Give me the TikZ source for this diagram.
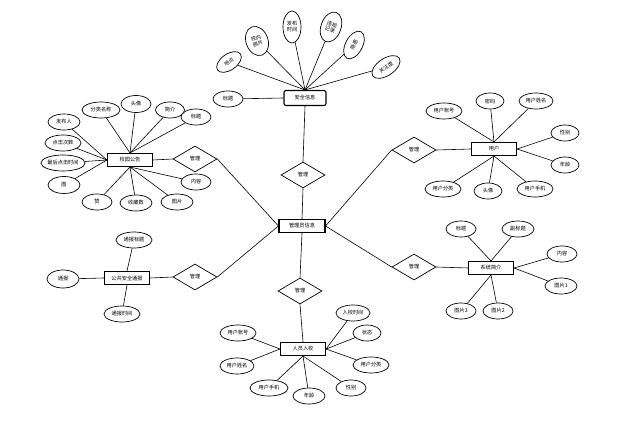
\documentclass[tikz,border=0pt]{standalone}
\usepackage{fontspec}
\newfontfamily\cjk{Noto Sans CJK SC}
\usetikzlibrary{shapes.geometric,backgrounds}
\begin{document}
\begin{tikzpicture}[x=1pt,y=-1pt,
 every node/.style={font=\cjk\fontsize{5.2}{6}\selectfont, inner sep=0pt, align=center},
 attr/.style={ellipse, draw, line width=0.7pt, fill=white, minimum height=16pt, minimum width=30pt},
 ent/.style={rectangle, draw, line width=1.1pt, fill=white, minimum width=45pt, minimum height=13pt},
 rel/.style={diamond, draw, line width=0.7pt, fill=white, minimum width=44pt, minimum height=26pt},
 lnk/.style={line width=0.6pt}]
\path[use as bounding box] (0,0) rectangle (636,430);

% entities
\node[ent, rounded corners=2pt, minimum width=42pt, minimum height=15pt] (aq) at (305,98) {安全信息};
\node[ent, minimum width=46pt] (gly) at (302,226) {管理员信息};
\node[ent] (xy) at (130,160) {校园公告};
\node[ent] (gg) at (127,278) {公共安全通报};
\node[ent] (yh) at (494,149) {用户};
\node[ent] (xt) at (491,268) {系统简介};
\node[ent] (ry) at (303,349) {人员入校};

% relations
\node[rel] (r1) at (303,175) {管理};
\node[rel] (r2) at (300,291) {管理};
\node[rel] (r3) at (195,159) {管理};
\node[rel] (r4) at (195,277) {管理};
\node[rel] (r5) at (414,150) {管理};
\node[rel] (r6) at (414,267) {管理};

% top attributes
\node[attr] (a1) at (228,99) {标题};
\node[attr, minimum width=28pt, rotate=35] (a2) at (229,62) {地点};
\node[attr, minimum width=22pt, minimum height=30pt, rotate=20] (a3) at (257,41) {校内\\照片};
\node[attr, minimum width=18pt, minimum height=32pt] (a4) at (292,27) {发布\\时间};
\node[attr, minimum width=20pt, minimum height=31pt, rotate=-20] (a5) at (331,27) {违规\\记录};
\node[attr, minimum width=30pt, minimum height=17pt, rotate=62] (a6) at (354,45) {隐患};
\node[attr, minimum width=32pt, minimum height=17pt, rotate=34] (a7) at (386,67) {关注度};

% 校园公告 attributes
\node[attr, minimum width=32pt] (b1) at (64,122) {发布人};
\node[attr, minimum width=36pt] (b2) at (63,143) {点击次数};
\node[attr, minimum width=44pt] (b3) at (63,163) {最后点击时间};
\node[attr, minimum width=32pt, minimum height=17pt] (b4) at (64,185) {图};
\node[attr, minimum width=38pt] (b5) at (101,110) {分类名称};
\node[attr, minimum height=17pt] (b6) at (136,104) {头像};
\node[attr, minimum width=29pt] (b7) at (170,110) {简介};
\node[attr] (b8) at (196,117) {标题};
\node[attr] (b9) at (196,182) {内容};
\node[attr, minimum width=32pt] (b10) at (177,202) {图片};
\node[attr, minimum width=32pt] (b11) at (136,203) {收藏数};
\node[attr] (b12) at (97,202) {赞};

% 用户 attributes
\node[attr, minimum width=36pt] (c1) at (444,111) {用户账号};
\node[attr, minimum width=28pt] (c2) at (490,101) {密码};
\node[attr, minimum width=34pt] (c3) at (536,101) {用户姓名};
\node[attr, minimum width=28pt] (c4) at (565,133) {性别};
\node[attr, minimum width=28pt] (c5) at (565,165) {年龄};
\node[attr, minimum width=36pt] (c6) at (535,189) {用户手机};
\node[attr, minimum width=28pt] (c7) at (488,191) {头像};
\node[attr, minimum width=36pt] (c8) at (443,189) {用户分类};

% 系统简介 attributes
\node[attr] (d1) at (461,229) {标题};
\node[attr, minimum width=32pt] (d2) at (518,229) {副标题};
\node[attr] (d3) at (562,254) {内容};
\node[attr, minimum width=32pt] (d4) at (561,286) {图片1};
\node[attr] (d5) at (498,311) {图片2};
\node[attr] (d6) at (461,311) {图片3};

% 人员入校 attributes
\node[attr, minimum width=34pt] (e1) at (353,313) {入校时间};
\node[attr, minimum width=28pt] (e2) at (367,333) {状态};
\node[attr, minimum width=36pt] (e3) at (371,365) {用户分类};
\node[attr] (e4) at (351,388) {性别};
\node[attr, minimum width=32pt] (e5) at (309,396) {年龄};
\node[attr, minimum width=38pt] (e6) at (269,388) {用户手机};
\node[attr, minimum width=34pt] (e7) at (237,366) {用户姓名};
\node[attr, minimum width=36pt] (e8) at (238,333) {用户账号};

% 公共安全通报 attributes
\node[attr, minimum width=36pt] (f1) at (134,240) {通报标题};
\node[attr, minimum width=32pt, minimum height=18pt] (f2) at (63,279) {通报};
\node[attr, minimum width=36pt] (f3) at (122,314) {通报时间};

\begin{scope}[on background layer]
\fill[white] (0,0) rectangle (636,430);
% relation links
\draw[lnk] (aq.south) -- (r1.north);
\draw[lnk] (r1.south) -- (gly.north);
\draw[lnk] (gly.south) -- (r2.north);
\draw[lnk] (r2.south) -- (ry.north);
\draw[lnk] (xy.east) -- (r3.west);
\draw[lnk] (r3.east) -- (gly.west);
\draw[lnk] (gg.east) -- (r4.west);
\draw[lnk] (r4.east) -- (gly.west);
\draw[lnk] (yh.west) -- (r5.east);
\draw[lnk] (r5.west) -- (gly.east);
\draw[lnk] (xt.west) -- (r6.east);
\draw[lnk] (r6.west) -- (gly.east);
% top
\draw[lnk] (a1) -- (aq.west);
\foreach \n in {a2,a3,a4,a5,a6,a7} \draw[lnk] (\n) -- (aq.north);
% left
\foreach \n in {b1,b2,b3,b4} \draw[lnk] (\n) -- (xy.west);
\foreach \n in {b5,b6,b7,b8} \draw[lnk] (\n) -- (xy.north);
\foreach \n in {b12,b11,b10,b9} \draw[lnk] (\n) -- (xy.south);
% user
\foreach \n in {c1,c2,c3} \draw[lnk] (\n) -- (yh.north);
\foreach \n in {c4,c5} \draw[lnk] (\n) -- (yh.east);
\foreach \n in {c6,c7,c8} \draw[lnk] (\n) -- (yh.south);
% system
\foreach \n in {d1,d2} \draw[lnk] (\n) -- (xt.north);
\foreach \n in {d3,d4} \draw[lnk] (\n) -- (xt.east);
\foreach \n in {d5,d6} \draw[lnk] (\n) -- (xt.south);
% ruxiao
\foreach \n in {e1,e2,e3} \draw[lnk] (\n) -- (ry.east);
\foreach \n in {e4,e5,e6} \draw[lnk] (\n) -- (ry.south);
\foreach \n in {e7,e8} \draw[lnk] (\n) -- (ry.west);
% gonggong
\draw[lnk] (f1) -- (gg.north);
\draw[lnk] (f2) -- (gg.west);
\draw[lnk] (f3) -- (gg.south);
\end{scope}
\end{tikzpicture}
\end{document}
